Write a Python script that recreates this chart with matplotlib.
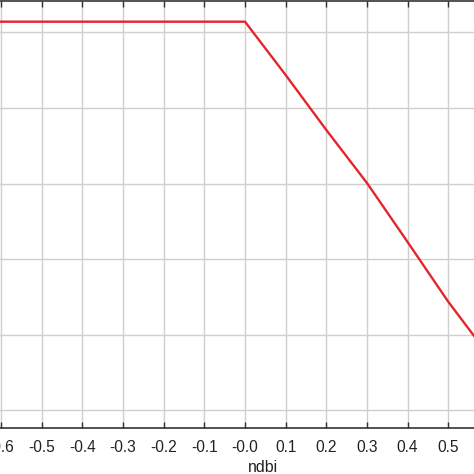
import matplotlib
matplotlib.use("Agg")
import matplotlib.pyplot as plt

# data
ndbi = [-0.6, -0.5, -0.4, -0.3, -0.2, -0.1, 0.0, 0.1, 0.2, 0.3, 0.4, 0.5, 0.57]
response = [5.143, 5.143, 5.143, 5.143, 5.143, 5.143, 5.143, 4.437, 3.709, 3.007, 2.225, 1.434, 0.935]
xticks = [-0.6, -0.5, -0.4, -0.3, -0.2, -0.1, 0.0, 0.1, 0.2, 0.3, 0.4, 0.5]
xticklabels = ["-0.6", "-0.5", "-0.4", "-0.3", "-0.2", "-0.1", "-0.0", "0.1", "0.2", "0.3", "0.4", "0.5"]
yticks = [0, 1, 2, 3, 4, 5]

plt.rcParams['font.family'] = ['Liberation Sans', 'DejaVu Sans']

fig = plt.figure(figsize=(4.74, 4.74), dpi=100)
ax = fig.add_axes([0.0, 46 / 474, 1.0, 427 / 474])

ax.plot(ndbi, response, color='#e3262b', linewidth=1.7, solid_joinstyle='round')

ax.set_xlim(-0.6027, 0.5633)
ax.set_ylim(-0.238, 5.417)
ax.set_xticks(xticks)
ax.set_xticklabels(xticklabels)
ax.set_yticks(yticks)

ax.grid(True, color='#cfcfcf', linewidth=1.0)
ax.set_axisbelow(True)

for s in ['left', 'right']:
    ax.spines[s].set_visible(False)
for s in ['top', 'bottom']:
    ax.spines[s].set_color('#333333')
    ax.spines[s].set_linewidth(1.2)

ax.tick_params(axis='x', direction='in', length=4, width=1, color='#333333',
               top=True, labelsize=11.2, pad=9, labelcolor='#222222')
ax.tick_params(axis='y', left=False, right=False, labelleft=False)

ax.set_xlabel('ndbi', fontsize=11.4, color='#222222', labelpad=1)
ax.xaxis.set_label_coords(263 / 474, -0.074)

fig.savefig('out.png', dpi=100)
